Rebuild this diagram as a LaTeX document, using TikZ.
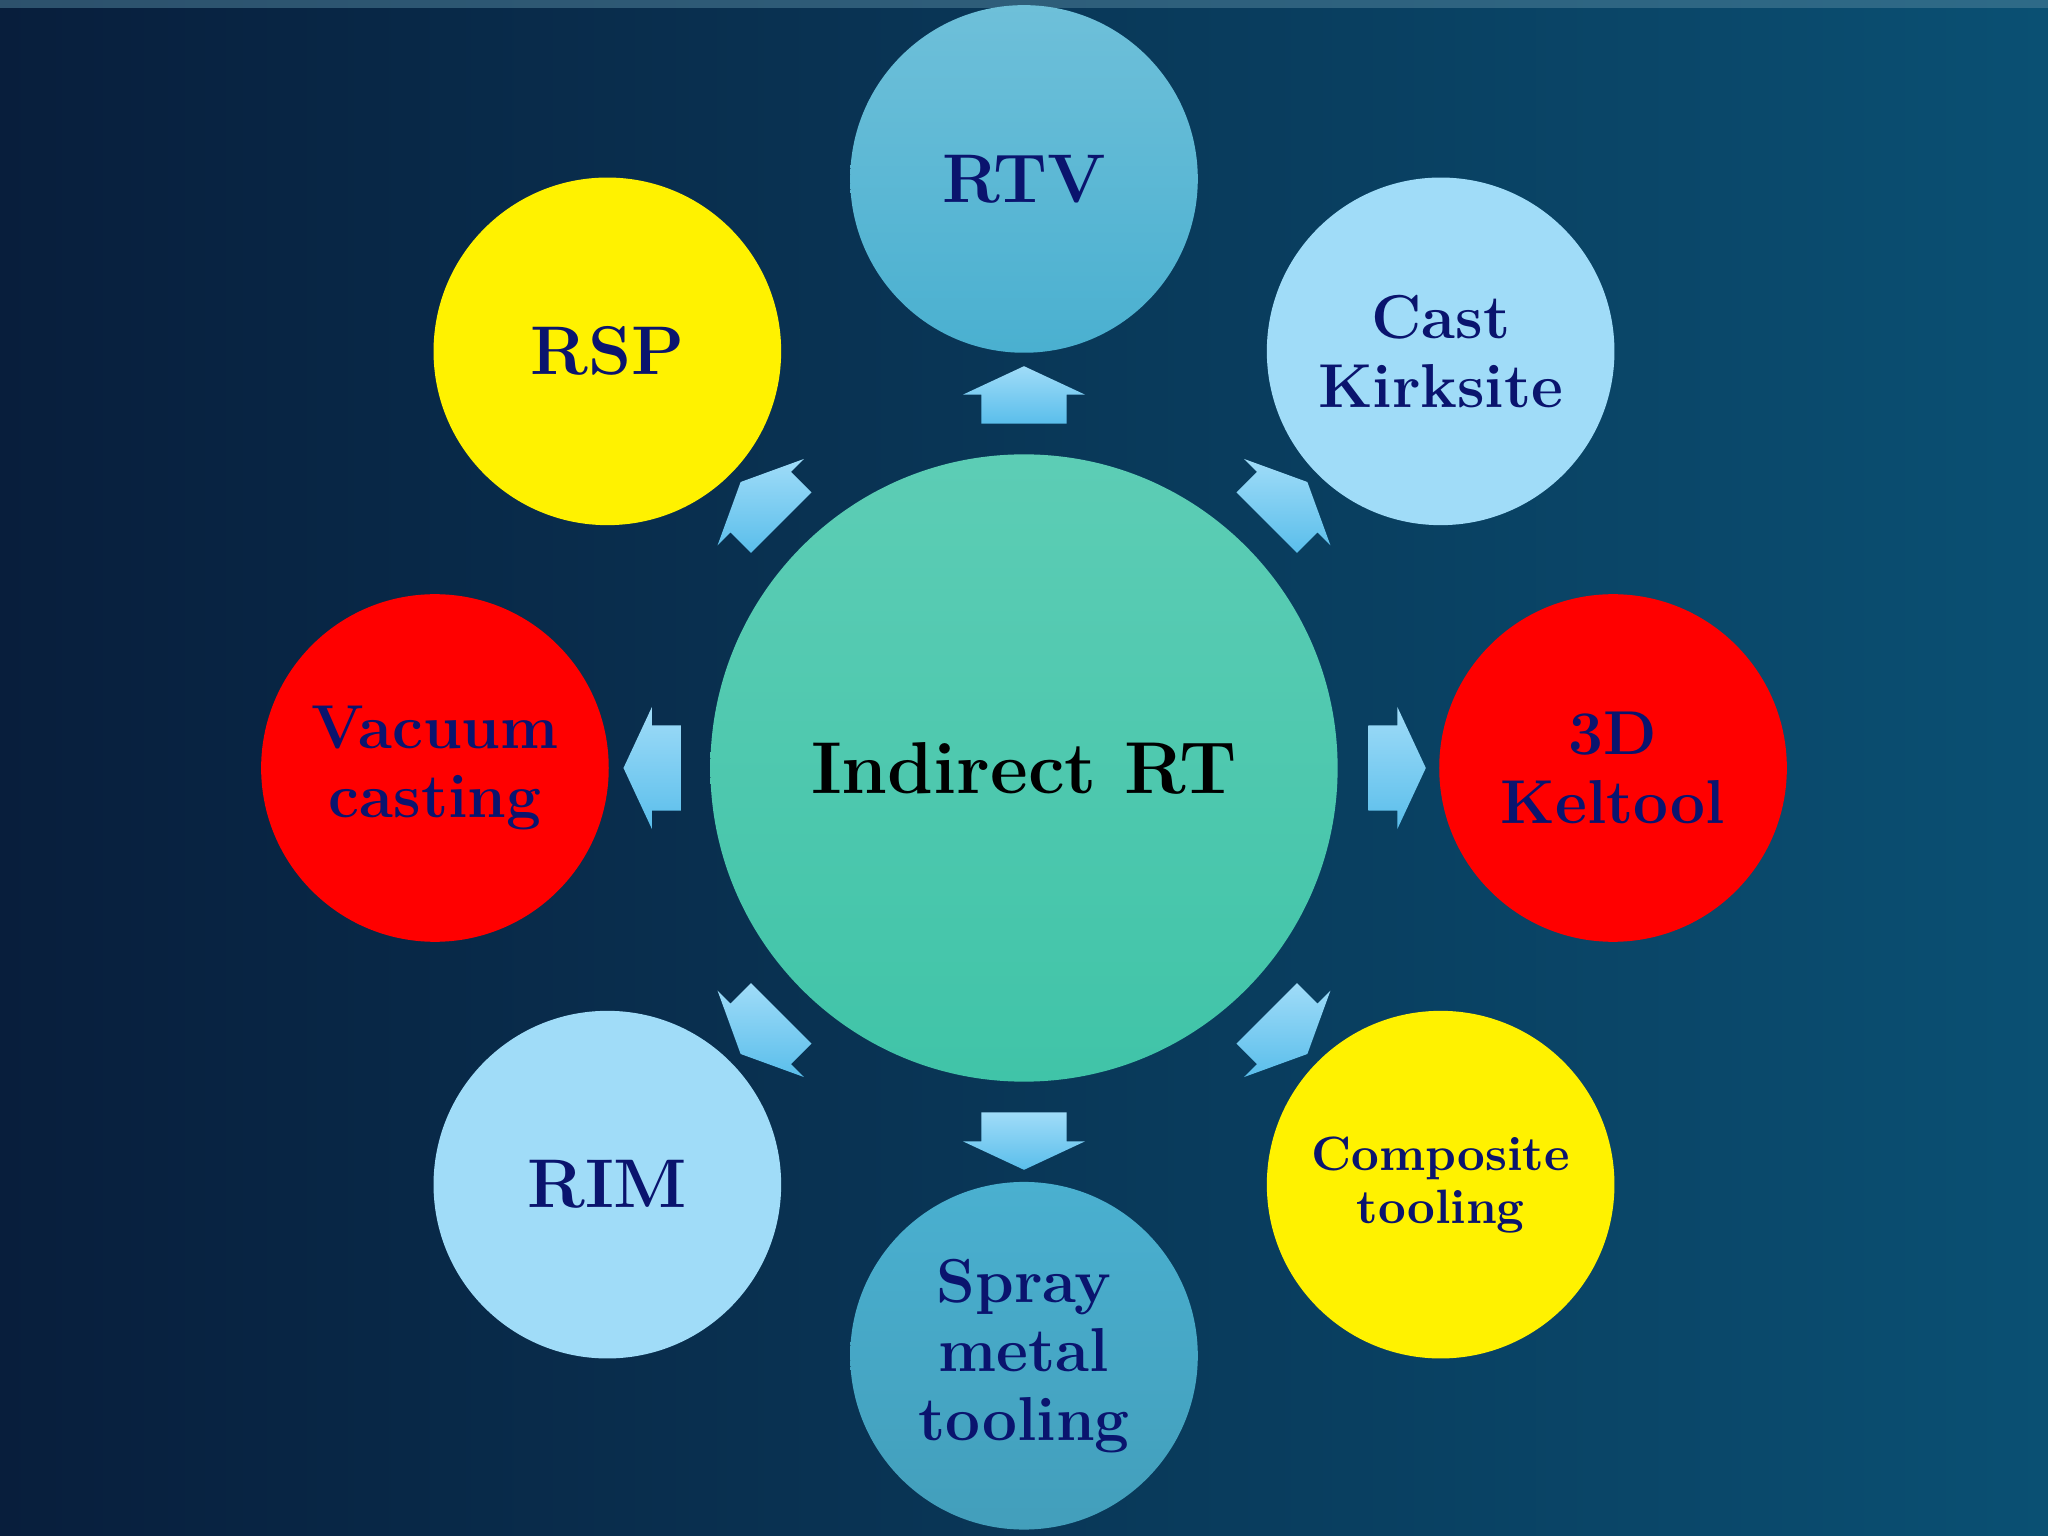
\documentclass[tikz,border=0pt]{standalone}
\usetikzlibrary{shapes.arrows,calc}
\definecolor{navy}{RGB}{10,20,110}
\definecolor{bgl}{RGB}{8,30,60}
\definecolor{bgr}{RGB}{10,80,115}
\definecolor{teal}{RGB}{64,196,168}
\definecolor{rtv}{RGB}{74,176,208}
\definecolor{lblue}{RGB}{160,220,248}
\definecolor{arr}{RGB}{90,190,235}
\tikzset{
 circ/.style={circle,minimum size=2.66cm,inner sep=0pt,align=center,font=\bfseries\fontsize{15}{18}\selectfont,text=navy},
 blk/.style={single arrow,minimum height=0.44cm,inner xsep=0pt,inner ysep=0.32cm,single arrow head extend=0.14cm,single arrow tip angle=130,shade,top color=lblue,bottom color=arr,shading angle=0}
}
\begin{document}
\begin{tikzpicture}[x=0.01cm,y=-0.01cm]
\shade[left color=bgl,right color=bgr] (0,0) rectangle (1568,1176);
\fill[bgr!70!white,opacity=0.5] (0,0) rectangle (1568,6);
\node[circle,minimum size=4.8cm,inner sep=0pt,shade,top color=teal!85!white,bottom color=teal,font=\bfseries\fontsize{16}{20}\selectfont,text=black] (c) at (784,588) {Indirect RT};
\node[circ,shade,top color=rtv!80!white,bottom color=rtv] (rtv) at (784,137) {RTV};
\node[circ,fill=lblue,font=\bfseries\fontsize{13.5}{15}\selectfont] (ck) at (1103,269) {Cast\\Kirksite};
\node[circ,fill=red,font=\bfseries\fontsize{13.5}{15}\selectfont] (kel) at (1235,588) {3D\\Keltool};
\node[circ,fill=yellow,font=\bfseries\fontsize{10.5}{11.5}\selectfont] (comp) at (1103,907) {Composite\\tooling};
\node[circ,shade,top color=rtv,bottom color=rtv!90!black,font=\bfseries\fontsize{13.5}{15}\selectfont] (spr) at (784,1038) {Spray\\metal\\tooling};
\node[circ,fill=lblue] (rim) at (465,907) {RIM};
\node[circ,fill=red,font=\bfseries\fontsize{13.5}{15}\selectfont] (vac) at (333,588) {Vacuum\\casting};
\node[circ,fill=yellow] (rsp) at (465,269) {RSP};
\node[blk,rotate=90] (a1) at (784,310) {};
\node[blk,rotate=-90] (a2) at (784,866) {};
\node[blk,rotate=180] (a3) at (507,588) {};
\node[blk,rotate=0] (a4) at (1062,588) {};
\node[blk,rotate=45] (a5) at (980,390) {};
\node[blk,rotate=135] (a6) at (588,390) {};
\node[blk,rotate=-45] (a7) at (980,786) {};
\node[blk,rotate=-135] (a8) at (588,786) {};
\end{tikzpicture}
\end{document}
